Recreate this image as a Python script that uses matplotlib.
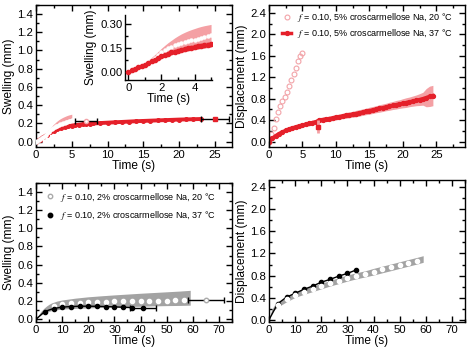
import matplotlib
matplotlib.use("Agg")
import matplotlib.pyplot as plt
from matplotlib.ticker import MultipleLocator

plt.rcParams['font.family'] = ['Liberation Sans', 'DejaVu Sans']
plt.rcParams['mathtext.fontset'] = 'stix'

RED = '#e5202a'
PINK = '#f2a3a8'
BAND_RED = '#f4a0a4'
GRAY = '#a3a3a3'
TICK_FS = 8.2
LABEL_FS = 8.6
LEG_FS = 6.5

# ---- panel 1 (5% croscarmellose, swelling) ----
sw37_t = [0.0, 0.5, 1.0, 1.5, 2.0, 2.5, 3.0, 3.5, 4.0, 4.5, 5.0, 5.5, 6.0, 6.5, 7.0, 7.5,
          8.0, 9.0, 10.0, 11.0, 12.0, 13.0, 14.0, 15.0, 16.0, 17.0, 18.0, 19.0, 20.0,
          21.0, 22.0, 23.0]
sw37_y = [0.0, 0.022, 0.047, 0.072, 0.10, 0.12, 0.135, 0.148, 0.158, 0.166, 0.174, 0.18,
          0.185, 0.189, 0.192, 0.195, 0.198, 0.203, 0.207, 0.211, 0.215, 0.219, 0.223,
          0.226, 0.229, 0.232, 0.235, 0.238, 0.241, 0.243, 0.245, 0.247]

# inset, 0-5 s
in_t = [0.0, 0.2, 0.4, 0.6, 0.8, 1.0, 1.2, 1.4, 1.6, 1.8, 2.0, 2.2, 2.4, 2.6, 2.8, 3.0,
        3.2, 3.4, 3.6, 3.8, 4.0, 4.2, 4.4, 4.6, 4.8, 5.0]
in37_y = [0.0, 0.01, 0.02, 0.029, 0.038, 0.047, 0.057, 0.066, 0.076, 0.086, 0.10, 0.108,
          0.116, 0.123, 0.129, 0.135, 0.140, 0.145, 0.150, 0.154, 0.159, 0.163, 0.166,
          0.169, 0.172, 0.175]
in37_err = [0.004, 0.005, 0.006, 0.007, 0.008, 0.009, 0.010, 0.011, 0.012, 0.013, 0.014,
            0.014, 0.015, 0.015, 0.016, 0.016, 0.016, 0.017, 0.017, 0.017, 0.018, 0.018,
            0.018, 0.018, 0.018, 0.018]
in20_y = [0.0, 0.01, 0.02, 0.03, 0.04, 0.05, 0.062, 0.075, 0.09, 0.108, 0.125, 0.138,
          0.150, 0.160, 0.168, 0.175, 0.182, 0.188, 0.194, 0.199, 0.204, 0.210, 0.216,
          0.222, 0.228, 0.234]
in20_lo = [0.0, 0.01, 0.02, 0.03, 0.04, 0.045, 0.055, 0.065, 0.075, 0.085, 0.095, 0.103,
           0.110, 0.117, 0.123, 0.129, 0.134, 0.139, 0.143, 0.147, 0.151, 0.155, 0.158,
           0.161, 0.164, 0.167]
in20_hi = [0.0, 0.01, 0.02, 0.03, 0.04, 0.06, 0.075, 0.092, 0.11, 0.13, 0.15, 0.168,
           0.185, 0.20, 0.215, 0.228, 0.24, 0.25, 0.259, 0.267, 0.274, 0.281, 0.287,
           0.292, 0.296, 0.30]

# x error points: (x, y, xerr)
p1_white = (7.0, 0.225, 1.5)
p1_red = (25.0, 0.25, 2.0)

# ---- panel 2 (5% croscarmellose, displacement) ----
d20_t = [0.0, 0.35, 0.7, 1.0, 1.35, 1.7, 2.0, 2.35, 2.7, 3.0, 3.35, 3.7, 4.0, 4.35, 4.7, 5.0]
d20_y = [0.0, 0.14, 0.26, 0.42, 0.55, 0.66, 0.75, 0.84, 0.93, 1.04, 1.15, 1.27, 1.38,
         1.50, 1.59, 1.65]

d37_t = [0.0, 0.5, 1.0, 1.5, 2.0, 2.5, 3.0, 3.5, 4.0, 4.5, 5.0, 5.5, 6.0, 6.5, 7.0, 7.5,
         8.0, 8.5, 9.0, 9.5, 10.0, 10.5, 11.0, 11.5, 12.0, 12.5, 13.0, 13.5, 14.0, 14.5,
         15.0, 15.5, 16.0, 16.5, 17.0, 17.5, 18.0, 18.5, 19.0, 19.5, 20.0, 20.5, 21.0,
         21.5, 22.0, 22.5, 23.0, 23.5, 24.0, 24.5]
d37_y = [0.0, 0.06, 0.11, 0.15, 0.18, 0.21, 0.235, 0.255, 0.275, 0.29, 0.31, 0.325, 0.34,
         0.355, 0.37, 0.40, 0.41, 0.42, 0.43, 0.44, 0.455, 0.465, 0.478, 0.49, 0.50, 0.51,
         0.523, 0.536, 0.55, 0.563, 0.577, 0.59, 0.604, 0.618, 0.632, 0.646, 0.66, 0.674,
         0.688, 0.70, 0.715, 0.728, 0.742, 0.756, 0.77, 0.784, 0.80, 0.82, 0.845, 0.86]
d37_err = [0.01, 0.02, 0.025, 0.03, 0.03, 0.035, 0.035, 0.035, 0.04, 0.04, 0.04, 0.04,
           0.045, 0.045, 0.045, 0.05, 0.045, 0.045, 0.045, 0.05, 0.05, 0.05, 0.05, 0.055,
           0.055, 0.055, 0.06, 0.06, 0.06, 0.06, 0.065, 0.065, 0.065, 0.07, 0.07, 0.07,
           0.075, 0.075, 0.08, 0.08, 0.085, 0.09, 0.09, 0.095, 0.10, 0.11, 0.12, 0.17,
           0.19, 0.19]
d37_dip = (7.3, 0.28, 0.12)

# ---- panel 3 (2% croscarmellose, swelling) ----
b3_t = [0, 1, 2, 3, 4, 5, 6, 8, 10, 15, 20, 25, 30, 35, 40, 45, 50, 55, 59]
b3_lo = [0.0, 0.03, 0.05, 0.065, 0.078, 0.088, 0.095, 0.105, 0.112, 0.12, 0.125, 0.13,
         0.135, 0.14, 0.143, 0.147, 0.15, 0.152, 0.155]
b3_hi = [0.0, 0.05, 0.09, 0.12, 0.145, 0.165, 0.18, 0.2, 0.212, 0.232, 0.247, 0.258,
         0.268, 0.277, 0.286, 0.294, 0.302, 0.31, 0.318]
w3_t = [6.7, 10.0, 13.3, 16.7, 20.0, 23.3, 26.7, 30.0, 33.3, 36.7, 40.0, 43.3, 46.7,
        50.0, 53.3, 56.7]
w3_y = [0.15, 0.165, 0.175, 0.182, 0.188, 0.192, 0.195, 0.198, 0.2, 0.202, 0.203,
        0.204, 0.205, 0.206, 0.207, 0.208]
k3_t = [0.0, 3.3, 6.7, 10.0, 13.3, 16.7, 20.0, 23.3, 26.7, 30.0, 33.3, 36.7]
k3_y = [0.0, 0.085, 0.118, 0.133, 0.14, 0.143, 0.144, 0.142, 0.14, 0.136, 0.132, 0.128]
p3_white = (65.0, 0.21, 7.0)
p3_black = (41.0, 0.125, 5.0)

# ---- panel 4 (2% croscarmellose, displacement) ----
b4_t = [0, 1, 2, 3.3, 6.7, 10, 13.3, 16.7, 20, 23.3, 26.7, 30, 33.3, 36.7, 40, 43.3,
        46.7, 50, 53.3, 56.7, 59]
b4_y = [0.0, 0.15, 0.22, 0.27, 0.37, 0.45, 0.51, 0.56, 0.61, 0.66, 0.71, 0.755, 0.795,
        0.83, 0.87, 0.91, 0.95, 0.99, 1.03, 1.07, 1.10]
b4_err = [0.0, 0.03, 0.04, 0.04, 0.045, 0.045, 0.05, 0.05, 0.05, 0.05, 0.055, 0.055,
          0.055, 0.055, 0.06, 0.06, 0.06, 0.06, 0.06, 0.06, 0.06]
w4_t = [3.3, 6.7, 10.0, 13.3, 16.7, 20.0, 23.3, 26.7, 30.0, 33.3, 36.7, 40.0, 43.3,
        46.7, 50.0, 53.3, 56.7]
w4_y = [0.27, 0.37, 0.45, 0.51, 0.56, 0.61, 0.66, 0.71, 0.755, 0.795, 0.83, 0.87, 0.91,
        0.95, 0.99, 1.03, 1.07]
k4_t = [0.0, 3.3, 6.7, 10.0, 13.3, 16.7, 20.0, 23.3, 26.7, 30.0, 33.3]
k4_y = [0.0, 0.29, 0.41, 0.48, 0.55, 0.61, 0.68, 0.73, 0.79, 0.84, 0.90]


def style_axes(ax, xmaj, xmin, ymaj, ymin, box=True):
    ax.xaxis.set_major_locator(MultipleLocator(xmaj))
    ax.xaxis.set_minor_locator(MultipleLocator(xmin))
    ax.yaxis.set_major_locator(MultipleLocator(ymaj))
    ax.yaxis.set_minor_locator(MultipleLocator(ymin))
    ax.tick_params(which='both', direction='in', top=box, right=box,
                   labelsize=TICK_FS, width=1.0, pad=2)
    ax.tick_params(which='major', length=4)
    ax.tick_params(which='minor', length=2)
    for s in ax.spines.values():
        s.set_linewidth(1.0)


def add_legend(ax, anchor, spacing):
    ax.legend(loc='upper left', frameon=False, fontsize=LEG_FS, handlelength=1.0,
              handletextpad=0.6, borderaxespad=0.0, labelspacing=spacing,
              bbox_to_anchor=anchor)


fig = plt.figure(figsize=(4.74, 3.55), dpi=100)

# ---- panel 1 ----
ax1 = fig.add_axes([0.076, 0.586, 0.4135, 0.40])
ax1.fill_between(in_t, in20_lo, in20_hi, color=BAND_RED, lw=0, zorder=1)
ax1.plot(in_t, in20_y, 'o', ms=2.2, mfc='white', mec='white', zorder=3)
ax1.plot(sw37_t, sw37_y, '-o', color=RED, lw=2.8, ms=2.6, zorder=2)
ax1.errorbar(p1_white[0], p1_white[1], xerr=p1_white[2], fmt='o', ms=3, mfc='white',
             mec=PINK, ecolor='black', elinewidth=1, capsize=2.5, zorder=4)
ax1.errorbar(p1_red[0], p1_red[1], xerr=p1_red[2], fmt='s', ms=3, color=RED,
             ecolor='black', elinewidth=1, capsize=2.5, zorder=4)
ax1.set_xlim(0, 27.4)
ax1.set_ylim(-0.06, 1.5)
style_axes(ax1, 5, 2.5, 0.2, 0.1)
ax1.set_xlabel('Time (s)', fontsize=LABEL_FS, labelpad=0)
ax1.set_ylabel('Swelling (mm)', fontsize=LABEL_FS, labelpad=2)

ins = fig.add_axes([0.264, 0.775, 0.183, 0.183])
ins.fill_between(in_t, in20_lo, in20_hi, color=BAND_RED, lw=0, zorder=1)
lo37 = [y - e for y, e in zip(in37_y, in37_err)]
hi37 = [y + e for y, e in zip(in37_y, in37_err)]
ins.fill_between(in_t, lo37, hi37, color='#f07478', lw=0, zorder=2)
ins.plot(in_t, in20_y, 'o', ms=2.2, mfc='white', mec='white', zorder=3)
ins.plot(in_t, in37_y, 'o', ms=3, color=RED, zorder=4)
ins.set_xlim(-0.2, 5.05)
ins.set_ylim(-0.05, 0.36)
ins.spines['top'].set_visible(False)
ins.spines['right'].set_visible(False)
style_axes(ins, 2, 1, 0.15, 0.075, box=False)
ins.set_yticks([0.0, 0.15, 0.30])
ins.set_yticklabels(['0.00', '0.15', '0.30'])
ins.set_xlabel('Time (s)', fontsize=LABEL_FS, labelpad=0)
ins.set_ylabel('Swelling (mm)', fontsize=LABEL_FS, labelpad=2)

# ---- panel 2 ----
ax2 = fig.add_axes([0.5675, 0.586, 0.4135, 0.40])
lo = [y - e for y, e in zip(d37_y, d37_err)]
hi = [y + e for y, e in zip(d37_y, d37_err)]
ax2.fill_between(d37_t, lo, hi, color=BAND_RED, lw=0, zorder=1)
ax2.errorbar(d37_dip[0], d37_dip[1], yerr=d37_dip[2], fmt='s', ms=3, color=RED,
             ecolor=BAND_RED, elinewidth=2, zorder=3)
ax2.plot(d20_t, d20_y, 'o', ms=3.5, mfc='none', mec=PINK, mew=0.8, zorder=2,
         label='$f$ = 0.10, 5% croscarmellose Na, 20 °C')
ax2.plot(d37_t, d37_y, '-o', color=RED, lw=2.5, ms=2.8, zorder=2,
         label='$f$ = 0.10, 5% croscarmellose Na, 37 °C')
ax2.set_xlim(0, 29.3)
ax2.set_ylim(-0.1, 2.55)
style_axes(ax2, 5, 2.5, 0.4, 0.2)
ax2.set_yticks([0.0, 0.4, 0.8, 1.2, 1.6, 2.0, 2.4])
ax2.set_xlabel('Time (s)', fontsize=LABEL_FS, labelpad=0)
ax2.set_ylabel('Displacement (mm)', fontsize=LABEL_FS, labelpad=2)
add_legend(ax2, (0.05, 0.985), 0.35)

# ---- panel 3 ----
ax3 = fig.add_axes([0.076, 0.093, 0.4135, 0.392])
ax3.fill_between(b3_t, b3_lo, b3_hi, color=GRAY, lw=0, zorder=1)
ax3.plot(w3_t, w3_y, 'o', ms=3, mfc='white', mec='white', zorder=3)
ax3.plot(k3_t, k3_y, '-o', color='black', lw=1, ms=3, zorder=3,
         markevery=list(range(1, len(k3_t))))
ax3.errorbar(p3_black[0], p3_black[1], xerr=p3_black[2], fmt='o', ms=3, color='black',
             elinewidth=1, capsize=2.5, zorder=4)
ax3.errorbar(p3_white[0], p3_white[1], xerr=p3_white[2], fmt='o', ms=3.2, mfc='white',
             mec='#aaaaaa', ecolor='black', elinewidth=1, capsize=2.5, zorder=4)
ax3.plot([], [], 'o', ms=3.2, mfc='white', mec='#aaaaaa',
         label='$f$ = 0.10, 2% croscarmellose Na, 20 °C')
ax3.plot([], [], 'o', ms=3.2, color='black',
         label='$f$ = 0.10, 2% croscarmellose Na, 37 °C')
ax3.set_xlim(0, 75)
ax3.set_ylim(-0.03, 1.5)
style_axes(ax3, 10, 5, 0.2, 0.1)
ax3.set_xlabel('Time (s)', fontsize=LABEL_FS, labelpad=0)
ax3.set_ylabel('Swelling (mm)', fontsize=LABEL_FS, labelpad=2)
add_legend(ax3, (0.03, 0.97), 0.6)

# ---- panel 4 ----
ax4 = fig.add_axes([0.5675, 0.093, 0.4135, 0.40])
lo4 = [y - e for y, e in zip(b4_y, b4_err)]
hi4 = [y + e for y, e in zip(b4_y, b4_err)]
ax4.fill_between(b4_t, lo4, hi4, color=GRAY, lw=0, zorder=1)
ax4.plot(w4_t, w4_y, 'o', ms=3, mfc='white', mec='white', zorder=3)
ax4.plot(k4_t, k4_y, '-o', color='black', lw=1, ms=3, zorder=2,
         markevery=list(range(1, len(k4_t))))
ax4.set_xlim(0, 75)
ax4.set_ylim(-0.04, 2.53)
style_axes(ax4, 10, 5, 0.4, 0.2)
ax4.set_yticks([0.0, 0.4, 0.8, 1.2, 1.6, 2.0, 2.4])
ax4.set_xlabel('Time (s)', fontsize=LABEL_FS, labelpad=0)
ax4.set_ylabel('Displacement (mm)', fontsize=LABEL_FS, labelpad=2)

fig.savefig('out.png', dpi=100)
